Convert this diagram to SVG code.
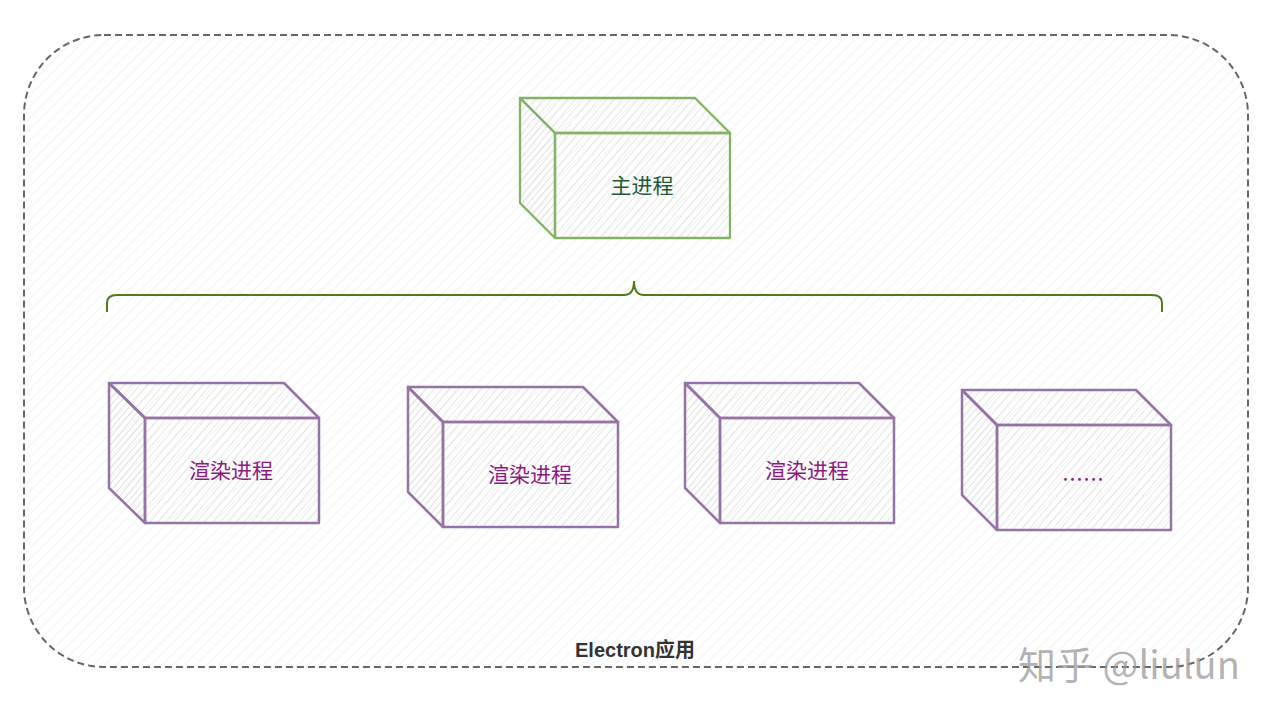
<svg xmlns="http://www.w3.org/2000/svg" width="1276" height="714" viewBox="0 0 1276 714">
<defs>
<pattern id="hatchBg" width="8" height="8" patternUnits="userSpaceOnUse" patternTransform="rotate(45)">
<line x1="0" y1="0" x2="0" y2="8" stroke="#e8e8e8" stroke-width="1"/>
</pattern>
<pattern id="hatchBox" width="6" height="6" patternUnits="userSpaceOnUse" patternTransform="rotate(40)">
<line x1="0" y1="0" x2="0" y2="6" stroke="#d0d0d0" stroke-width="1"/>
</pattern>
<pattern id="hatchSide" width="5" height="5" patternUnits="userSpaceOnUse" patternTransform="rotate(40)">
<line x1="0" y1="0" x2="0" y2="5" stroke="#c4c4c4" stroke-width="1"/>
</pattern>
</defs>
<style>
.green path{stroke:#82b366;stroke-width:2.3;stroke-linejoin:round}
.purple path{stroke:#9673a6;stroke-width:2.5;stroke-linejoin:round}
.face{fill:url(#hatchBox)}
.side{fill:url(#hatchSide)}
.lbl{font-family:"Noto Sans CJK SC","Liberation Sans",sans-serif;font-size:21px;text-anchor:middle}
.g{fill:#1d5a36}
.p{fill:#8c1a80}
</style>
<rect width="1276" height="714" fill="#ffffff"/>
<g id="container">
<rect x="24" y="35" width="1224" height="632" rx="80" ry="80" fill="url(#hatchBg)" stroke="#666666" stroke-width="2" stroke-dasharray="7 4"/>
<text x="635" y="657" font-family="'Liberation Sans','Noto Sans CJK SC',sans-serif" font-size="20" font-weight="bold" fill="#333333" text-anchor="middle">Electron应用</text>
</g>
<g id="main" class="green">
<path class="side" d="M520,98 L555,133 L555,238 L520,203 Z"/>
<path class="face" d="M520,98 L695,98 L730,133 L555,133 Z"/>
<path class="face" d="M555,133 L730,133 L730,238 L555,238 Z"/>
<text class="lbl g" x="642" y="193">主进程</text>
</g>
<g id="connectors">
<path d="M107,312 L107,303 Q107,295 117,295 L624,295 Q634,295 634,281 Q634,295 644,295 L1152,295 Q1162,295 1162,303 L1162,312" fill="none" stroke="#4d7c1a" stroke-width="2"/>
</g>
<g id="render1" class="purple">
<path class="side" d="M109,383 L145,418 L145,523 L109,488 Z"/>
<path class="face" d="M109,383 L284,383 L319,418 L145,418 Z"/>
<path class="face" d="M145,418 L319,418 L319,523 L145,523 Z"/>
<text class="lbl p" x="231" y="478">渲染进程</text>
</g>
<g id="render2" class="purple">
<path class="side" d="M408,387 L443,422 L443,527 L408,492 Z"/>
<path class="face" d="M408,387 L583,387 L618,422 L443,422 Z"/>
<path class="face" d="M443,422 L618,422 L618,527 L443,527 Z"/>
<text class="lbl p" x="530" y="482">渲染进程</text>
</g>
<g id="render3" class="purple">
<path class="side" d="M685,383 L720,418 L720,523 L685,488 Z"/>
<path class="face" d="M685,383 L859,383 L894,418 L720,418 Z"/>
<path class="face" d="M720,418 L894,418 L894,523 L720,523 Z"/>
<text class="lbl p" x="807" y="478">渲染进程</text>
</g>
<g id="render4" class="purple">
<path class="side" d="M962,390 L997,425 L997,530 L962,495 Z"/>
<path class="face" d="M962,390 L1136,390 L1171,425 L997,425 Z"/>
<path class="face" d="M997,425 L1171,425 L1171,530 L997,530 Z"/>
<text class="lbl p" x="1083" y="487" font-size="16">……</text>
</g>
<g id="watermark">
<text x="1018" y="679" font-family="'Noto Sans CJK SC','Liberation Sans',sans-serif" font-size="38" fill="#9a9a9a" fill-opacity="0.75">知乎 @liulun</text>
</g>
</svg>
